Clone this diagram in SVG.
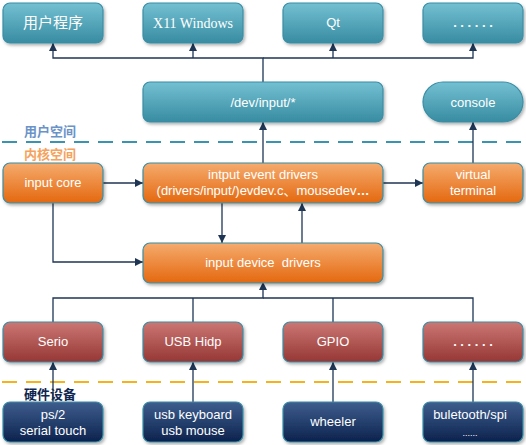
<svg xmlns="http://www.w3.org/2000/svg" width="526" height="445" viewBox="0 0 526 445">
<defs>
<linearGradient id="gT" x1="0" y1="0" x2="0" y2="1"><stop offset="0" stop-color="#74c0d2"/><stop offset="1" stop-color="#388ca1"/></linearGradient>
<linearGradient id="gO" x1="0" y1="0" x2="0" y2="1"><stop offset="0" stop-color="#f5ab6e"/><stop offset="1" stop-color="#e4680f"/></linearGradient>
<linearGradient id="gR" x1="0" y1="0" x2="0" y2="1"><stop offset="0" stop-color="#cb7773"/><stop offset="1" stop-color="#963735"/></linearGradient>
<linearGradient id="gN" x1="0" y1="0" x2="0" y2="1"><stop offset="0" stop-color="#3e5e8e"/><stop offset="1" stop-color="#0c224d"/></linearGradient>
<filter id="sh" x="-10%" y="-10%" width="130%" height="140%"><feDropShadow dx="1.5" dy="2" stdDeviation="1.5" flood-color="#000" flood-opacity="0.3"/></filter>
<marker id="ar" markerWidth="8" markerHeight="8" refX="8" refY="4" orient="auto" markerUnits="userSpaceOnUse"><path d="M0,0 L8,4 L0,8 Z" fill="#1e3554"/></marker>
</defs>
<style>
.t{stroke:#3a8ea5;stroke-width:1.2;fill:url(#gT);filter:url(#sh)}
.o{stroke:#3a8ea5;stroke-width:1.2;fill:url(#gO);filter:url(#sh)}
.r{stroke:#3a8ea5;stroke-width:1.2;fill:url(#gR);filter:url(#sh)}
.n{stroke:#3a8ea5;stroke-width:1.2;fill:url(#gN);filter:url(#sh)}
text{font-family:"Liberation Sans",Arial,"Noto Sans CJK SC",sans-serif;font-size:13px;fill:#fff;text-anchor:middle}
.serif{font-family:"Liberation Serif","Times New Roman",serif;font-size:14px}
.cjk{font-family:"Noto Sans CJK SC",sans-serif}
.dots{font-size:13px;font-weight:bold}
.lbl{text-anchor:start;font-family:"Noto Sans CJK SC",sans-serif;font-weight:bold;font-size:13px}
#conn path{fill:none;stroke:#1e3554;stroke-width:1.3}
</style>

<g id="labels">
<text class="lbl" x="24" y="136" style="fill:#6b93c8">用户空间</text>
<text class="lbl" x="24" y="159" style="fill:#f5a25d">内核空间</text>
<text class="lbl" x="24" y="399" style="fill:#0e2550">硬件设备</text>
<line x1="2" y1="142" x2="526" y2="142" stroke="#3a94b0" stroke-width="2" stroke-dasharray="15 9"/>
<line x1="2" y1="382" x2="526" y2="382" stroke="#f6b21c" stroke-width="2" stroke-dasharray="15 9"/>
</g>

<g id="conn">
<path d="M263,82 V58 H53 V43" marker-end="url(#ar)"/>
<path d="M193,58 V43" marker-end="url(#ar)"/>
<path d="M263,58 H473 V43" marker-end="url(#ar)"/>
<path d="M333,58 V43" marker-end="url(#ar)"/>
<path d="M263,163 V122" marker-end="url(#ar)"/>
<path d="M473,163 V122" marker-end="url(#ar)"/>
<path d="M103,183 H143" marker-end="url(#ar)"/>
<path d="M383,183 H423" marker-end="url(#ar)"/>
<path d="M222,203 V243" marker-end="url(#ar)"/>
<path d="M302,243 V203" marker-end="url(#ar)"/>
<path d="M53,203 V262 H143" marker-end="url(#ar)"/>
<path d="M53,322 V298 H263 V282" marker-end="url(#ar)"/>
<path d="M193,322 V298"/>
<path d="M263,298 H473 V322"/>
<path d="M333,322 V298"/>
<path d="M53,402 V362" marker-end="url(#ar)"/>
<path d="M193,402 V362" marker-end="url(#ar)"/>
<path d="M333,402 V362" marker-end="url(#ar)"/>
<path d="M473,402 V362" marker-end="url(#ar)"/>
</g>

<g id="app"><rect class="t" x="3" y="3" width="100" height="40" rx="7"/><text class="cjk" x="53" y="28" style="font-size:15px">用户程序</text></g>
<g id="x11"><rect class="t" x="143" y="3" width="100" height="40" rx="7"/><text class="serif" x="193" y="28">X11 Windows</text></g>
<g id="qt"><rect class="t" x="283" y="3" width="100" height="40" rx="7"/><text x="333" y="27">Qt</text></g>
<g id="more1"><rect class="t" x="423" y="3" width="100" height="40" rx="7"/><text class="dots" x="473" y="27">. . . . . .</text></g>

<g id="devinput"><rect class="t" x="143" y="82" width="240" height="40" rx="7"/><text x="263" y="107">/dev/input/*</text></g>
<g id="console"><rect class="t" x="423" y="82" width="100" height="40" rx="20"/><text x="473" y="107">console</text></g>

<g id="inputcore"><rect class="o" x="3" y="163" width="100" height="40" rx="7"/><text x="53" y="187">input core</text></g>
<g id="eventdrivers"><rect class="o" x="143" y="163" width="240" height="40" rx="7"/><text x="263" y="179">intput event drivers</text><text x="263" y="195">(drivers/input/)evdev.c、mousedev<tspan font-weight="bold">…</tspan></text></g>
<g id="vterm"><rect class="o" x="423" y="163" width="100" height="40" rx="7"/><text x="473" y="179">virtual</text><text x="473" y="195">terminal</text></g>

<g id="devicedrivers"><rect class="o" x="143" y="243" width="240" height="40" rx="7"/><text x="263" y="267" xml:space="preserve">input device  drivers</text></g>

<g id="serio"><rect class="r" x="3" y="322" width="100" height="40" rx="7"/><text x="53" y="346">Serio</text></g>
<g id="usbhidp"><rect class="r" x="143" y="322" width="100" height="40" rx="7"/><text x="193" y="346">USB Hidp</text></g>
<g id="gpio"><rect class="r" x="283" y="322" width="100" height="40" rx="7"/><text x="333" y="346">GPIO</text></g>
<g id="more2"><rect class="r" x="423" y="322" width="100" height="40" rx="7"/><text class="dots" x="473" y="346">. . . . . .</text></g>

<g id="ps2"><rect class="n" x="3" y="402" width="100" height="40" rx="7"/><text x="53" y="419">ps/2</text><text x="53" y="435">serial touch</text></g>
<g id="usbkbd"><rect class="n" x="143" y="402" width="100" height="40" rx="7"/><text x="193" y="419">usb keyboard</text><text x="193" y="435">usb mouse</text></g>
<g id="wheeler"><rect class="n" x="283" y="402" width="100" height="40" rx="7"/><text x="333" y="426">wheeler</text></g>
<g id="bt"><rect class="n" x="423" y="402" width="100" height="40" rx="7"/><text x="470" y="419">buletooth/spi</text><text x="470" y="436" style="font-size:9px">......</text></g>
</svg>
